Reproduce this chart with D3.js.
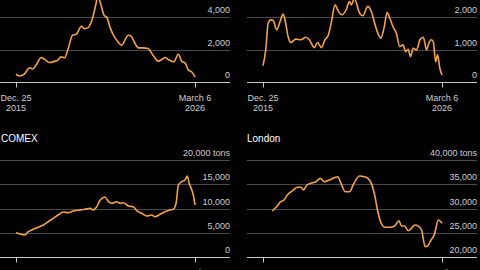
<!-- Load d3.js -->
<script src="https://d3js.org/d3.v7.min.js"></script>

<style>
  body { margin: 0; background: #000; }
  svg { display: block; background: #000; }
</style>

<div id="my_dataviz"></div>

<script>

// ---- data ----
var dateTicks = ["2015-12-25", "2026-03-06"]
var dateTickLines = [["Dec. 25", "2015"], ["March 6", "2026"]]

// top left panel (title cut off)
var topLeftData = [
  ["2015-12-25", 490], ["2016-03-01", 370], ["2016-06-15", 490], ["2016-10-01", 875],
  ["2016-12-01", 800], ["2017-02-15", 1040], ["2017-06-01", 1510], ["2017-08-15", 1390],
  ["2017-11-15", 1200], ["2018-03-01", 1270], ["2018-05-15", 1350], ["2018-07-15", 1550],
  ["2018-10-01", 1490], ["2018-12-15", 2060], ["2019-03-15", 2880], ["2019-06-01", 2940],
  ["2019-09-15", 3430], ["2019-11-15", 3290], ["2020-02-01", 3350], ["2020-05-01", 3900],
  ["2020-07-15", 4820], ["2020-08-20", 5300], ["2020-10-20", 4820], ["2021-01-01", 4100],
  ["2021-03-01", 3960], ["2021-05-01", 3380], ["2021-07-15", 2880], ["2021-10-15", 2470],
  ["2022-01-01", 2260], ["2022-03-15", 2610], ["2022-05-15", 2880], ["2022-07-20", 2815],
  ["2022-10-01", 2400], ["2022-12-15", 2100], ["2023-03-20", 2100], ["2023-07-01", 2060],
  ["2023-10-15", 1650], ["2024-02-01", 1285], ["2024-04-15", 1390], ["2024-06-20", 1510],
  ["2024-08-25", 1390], ["2024-11-05", 1285], ["2024-12-20", 1240], ["2025-03-25", 1710],
  ["2025-06-01", 1285], ["2025-08-10", 1180], ["2025-10-20", 730], ["2025-12-25", 630],
  ["2026-03-06", 320]
]

// top right panel (title cut off)
var topRightData = [
  ["2015-12-25", 505], ["2016-02-20", 990], ["2016-04-10", 1810], ["2016-06-01", 1915],
  ["2016-07-25", 1895], ["2016-10-05", 1607], ["2016-12-15", 1865], ["2017-02-15", 2090],
  ["2017-04-10", 1810], ["2017-05-30", 1400], ["2017-07-25", 1215], ["2017-11-05", 1320],
  ["2018-02-20", 1300], ["2018-06-05", 1380], ["2018-08-15", 1300], ["2018-11-25", 1060],
  ["2019-02-01", 1215], ["2019-04-25", 1060], ["2019-07-05", 1300], ["2019-09-15", 1450],
  ["2019-11-20", 1865], ["2020-02-01", 2380], ["2020-03-25", 2225], ["2020-06-20", 2070],
  ["2020-09-20", 2225], ["2020-11-25", 2480], ["2021-01-05", 2380], ["2021-03-10", 2560],
  ["2021-06-25", 2120], ["2021-09-01", 2040], ["2021-12-15", 2330], ["2022-02-25", 2170],
  ["2022-05-05", 1810], ["2022-07-10", 1505], ["2022-09-10", 1350], ["2022-11-15", 1660],
  ["2023-01-20", 2140], ["2023-03-15", 1970], ["2023-05-20", 1710], ["2023-07-30", 1505],
  ["2023-10-10", 1090], ["2023-12-15", 1145], ["2024-02-10", 935], ["2024-04-01", 1010],
  ["2024-05-20", 780], ["2024-07-15", 1040], ["2024-09-25", 990], ["2024-12-01", 1300],
  ["2025-02-10", 1380], ["2025-04-20", 990], ["2025-05-25", 1145], ["2025-07-20", 1300],
  ["2025-09-05", 1245], ["2025-10-25", 627], ["2025-12-05", 835], ["2026-01-20", 423],
  ["2026-03-06", 216]
]

// COMEX, tons
var comexData = [
  ["2015-12-25", 5050], ["2016-03-15", 4790], ["2016-06-25", 4580], ["2016-09-05", 5260],
  ["2016-12-20", 5750], ["2017-04-01", 6165], ["2017-07-15", 6640], ["2017-10-25", 7315],
  ["2018-02-10", 8015], ["2018-05-20", 8690], ["2018-09-05", 9310], ["2018-12-15", 9165],
  ["2019-04-01", 9515], ["2019-08-15", 9720], ["2019-11-25", 9865], ["2020-03-15", 10070],
  ["2020-05-20", 9720], ["2020-07-30", 10400], ["2020-10-10", 11775], ["2021-01-20", 12400],
  ["2021-03-30", 11430], ["2021-06-10", 11100], ["2021-09-20", 11430], ["2021-12-01", 11100],
  ["2022-02-05", 11220], ["2022-05-20", 10540], ["2022-09-01", 10400], ["2022-11-10", 9580],
  ["2023-02-20", 9040], ["2023-06-05", 8490], ["2023-09-15", 8690], ["2023-11-25", 8340],
  ["2024-03-10", 8840], ["2024-06-20", 9370], ["2024-10-01", 9720], ["2024-12-10", 9865],
  ["2025-02-05", 11100], ["2025-03-25", 14860], ["2025-06-01", 15540], ["2025-08-10", 15885],
  ["2025-09-25", 16700], ["2025-11-05", 15200], ["2025-12-25", 13970], ["2026-01-30", 12800],
  ["2026-03-06", 10750]
]

// London, tons
var londonData = [
  ["2016-07-05", 29515], ["2016-10-15", 30540], ["2016-12-25", 31430], ["2017-03-05", 31775],
  ["2017-05-15", 32800], ["2017-08-30", 33690], ["2017-12-10", 34390], ["2018-02-20", 34390],
  ["2018-04-15", 33830], ["2018-06-25", 34860], ["2018-09-15", 35200], ["2019-01-01", 35540],
  ["2019-04-01", 36230], ["2019-06-25", 35540], ["2019-10-05", 35880], ["2020-01-15", 36360],
  ["2020-03-25", 36560], ["2020-06-05", 35200], ["2020-08-30", 33480], ["2020-11-30", 33480],
  ["2021-02-10", 34860], ["2021-06-25", 36700], ["2021-10-05", 36560], ["2021-12-15", 36230],
  ["2022-02-25", 35200], ["2022-05-05", 32800], ["2022-07-10", 29370], ["2022-09-20", 26990],
  ["2022-11-30", 26165], ["2023-03-15", 26165], ["2023-06-25", 26430], ["2023-09-20", 27520],
  ["2023-11-15", 26430], ["2024-01-20", 26430], ["2024-04-01", 25470], ["2024-06-10", 25960],
  ["2024-08-15", 26640], ["2024-10-25", 26430], ["2025-01-05", 25610], ["2025-03-20", 22180],
  ["2025-05-10", 22320], ["2025-07-20", 23550], ["2025-09-25", 24580], ["2025-12-20", 27665],
  ["2026-03-06", 27000]
]

var topLeftTicks = [0, 2000, 4000]
var topRightTicks = [0, 1000, 2000]
var comexTicks = [0, 5000, 10000, 15000, 20000]
var londonTicks = [20000, 25000, 30000, 35000, 40000]

// ---- svg ----
var W = 480, H = 270
var svg = d3.select("#my_dataviz")
  .append("svg")
    .attr("width", W)
    .attr("height", H)

var parse = d3.timeParse("%Y-%m-%d")
var fmt = d3.format(",")
var orange = "#f6a33b"
var font = "'Liberation Sans', Arial, sans-serif"

function panel(o) {
  var g = svg.append("g")

  var x = d3.scaleTime()
    .domain([parse(dateTicks[0]), parse(dateTicks[1])])
    .range([o.x0 + 16, o.x1 - 35])

  var y = d3.scaleLinear()
    .domain(o.domain)
    .range([o.bottom, o.top])

  // horizontal gridlines (base one brighter)
  g.selectAll("grid")
    .data(o.ticks)
    .enter()
    .append("line")
      .attr("x1", o.x0)
      .attr("x2", o.x1)
      .attr("y1", function(d){ return Math.round(y(d)) + 0.5 })
      .attr("y2", function(d){ return Math.round(y(d)) + 0.5 })
      .style("stroke", function(d){ return d == o.domain[0] ? "#c8c8c8" : "#4a4a4a" })
      .style("stroke-width", 1)

  // y labels, sitting above their line
  g.selectAll("ylab")
    .data(o.ticks.filter(function(d){ return y(d) > -5 }))
    .enter()
    .append("text")
      .attr("x", o.x1)
      .attr("y", function(d){ return y(d) - 4 })
      .attr("text-anchor", "end")
      .style("font-family", font)
      .style("font-size", "9px")
      .style("fill", "#cfcfcf")
      .text(function(d, i){
        return fmt(d) + (o.unit && d == o.domain[1] ? " tons" : "")
      })

  // date ticks
  var base = Math.round(y(o.domain[0])) + 0.5
  g.selectAll("xtick")
    .data(dateTicks)
    .enter()
    .append("line")
      .attr("x1", function(d){ return Math.round(x(parse(d))) + 0.5 })
      .attr("x2", function(d){ return Math.round(x(parse(d))) + 0.5 })
      .attr("y1", base)
      .attr("y2", base + 5)
      .style("stroke", "#c8c8c8")

  var lab = g.selectAll("xlab")
    .data(dateTicks)
    .enter()
    .append("text")
      .attr("text-anchor", "middle")
      .style("font-family", font)
      .style("font-size", "9px")
      .style("fill", "#cfcfcf")
  lab.each(function(d, i){
    var t = d3.select(this)
    dateTickLines[i].forEach(function(s, k){
      t.append("tspan")
        .attr("x", x(parse(d)))
        .attr("y", base + 18 + k * 10)
        .text(s)
    })
  })

  // title
  if (o.title) {
    g.append("text")
      .attr("x", o.x0 + (o.x0 > 0 ? 0 : 1))
      .attr("y", o.titleY)
      .style("font-family", font)
      .style("font-size", "10px")
      .style("fill", "#ffffff")
      .text(o.title)
  }

  // the line
  var line = d3.line()
    .x(function(d){ return x(parse(d[0])) })
    .y(function(d){ return y(d[1]) })
    .curve(d3.curveMonotoneX)

  g.append("path")
    .datum(o.data)
    .attr("d", line)
    .style("fill", "none")
    .style("stroke", orange)
    .style("stroke-width", 1.6)
    .style("stroke-linejoin", "round")
}

panel({ x0: 0, x1: 230, top: -15.4, bottom: 82, domain: [0, 6000],
        ticks: topLeftTicks, data: topLeftData })
panel({ x0: 247, x1: 477, top: -15.4, bottom: 82, domain: [0, 3000],
        ticks: topRightTicks, data: topRightData })
panel({ x0: 0, x1: 230, top: 160, bottom: 257.3, domain: [0, 20000],
        ticks: comexTicks, data: comexData, title: "COMEX", titleY: 142, unit: true })
panel({ x0: 247, x1: 477, top: 160, bottom: 257.3, domain: [20000, 40000],
        ticks: londonTicks, data: londonData, title: "London", titleY: 142, unit: true })

</script>
